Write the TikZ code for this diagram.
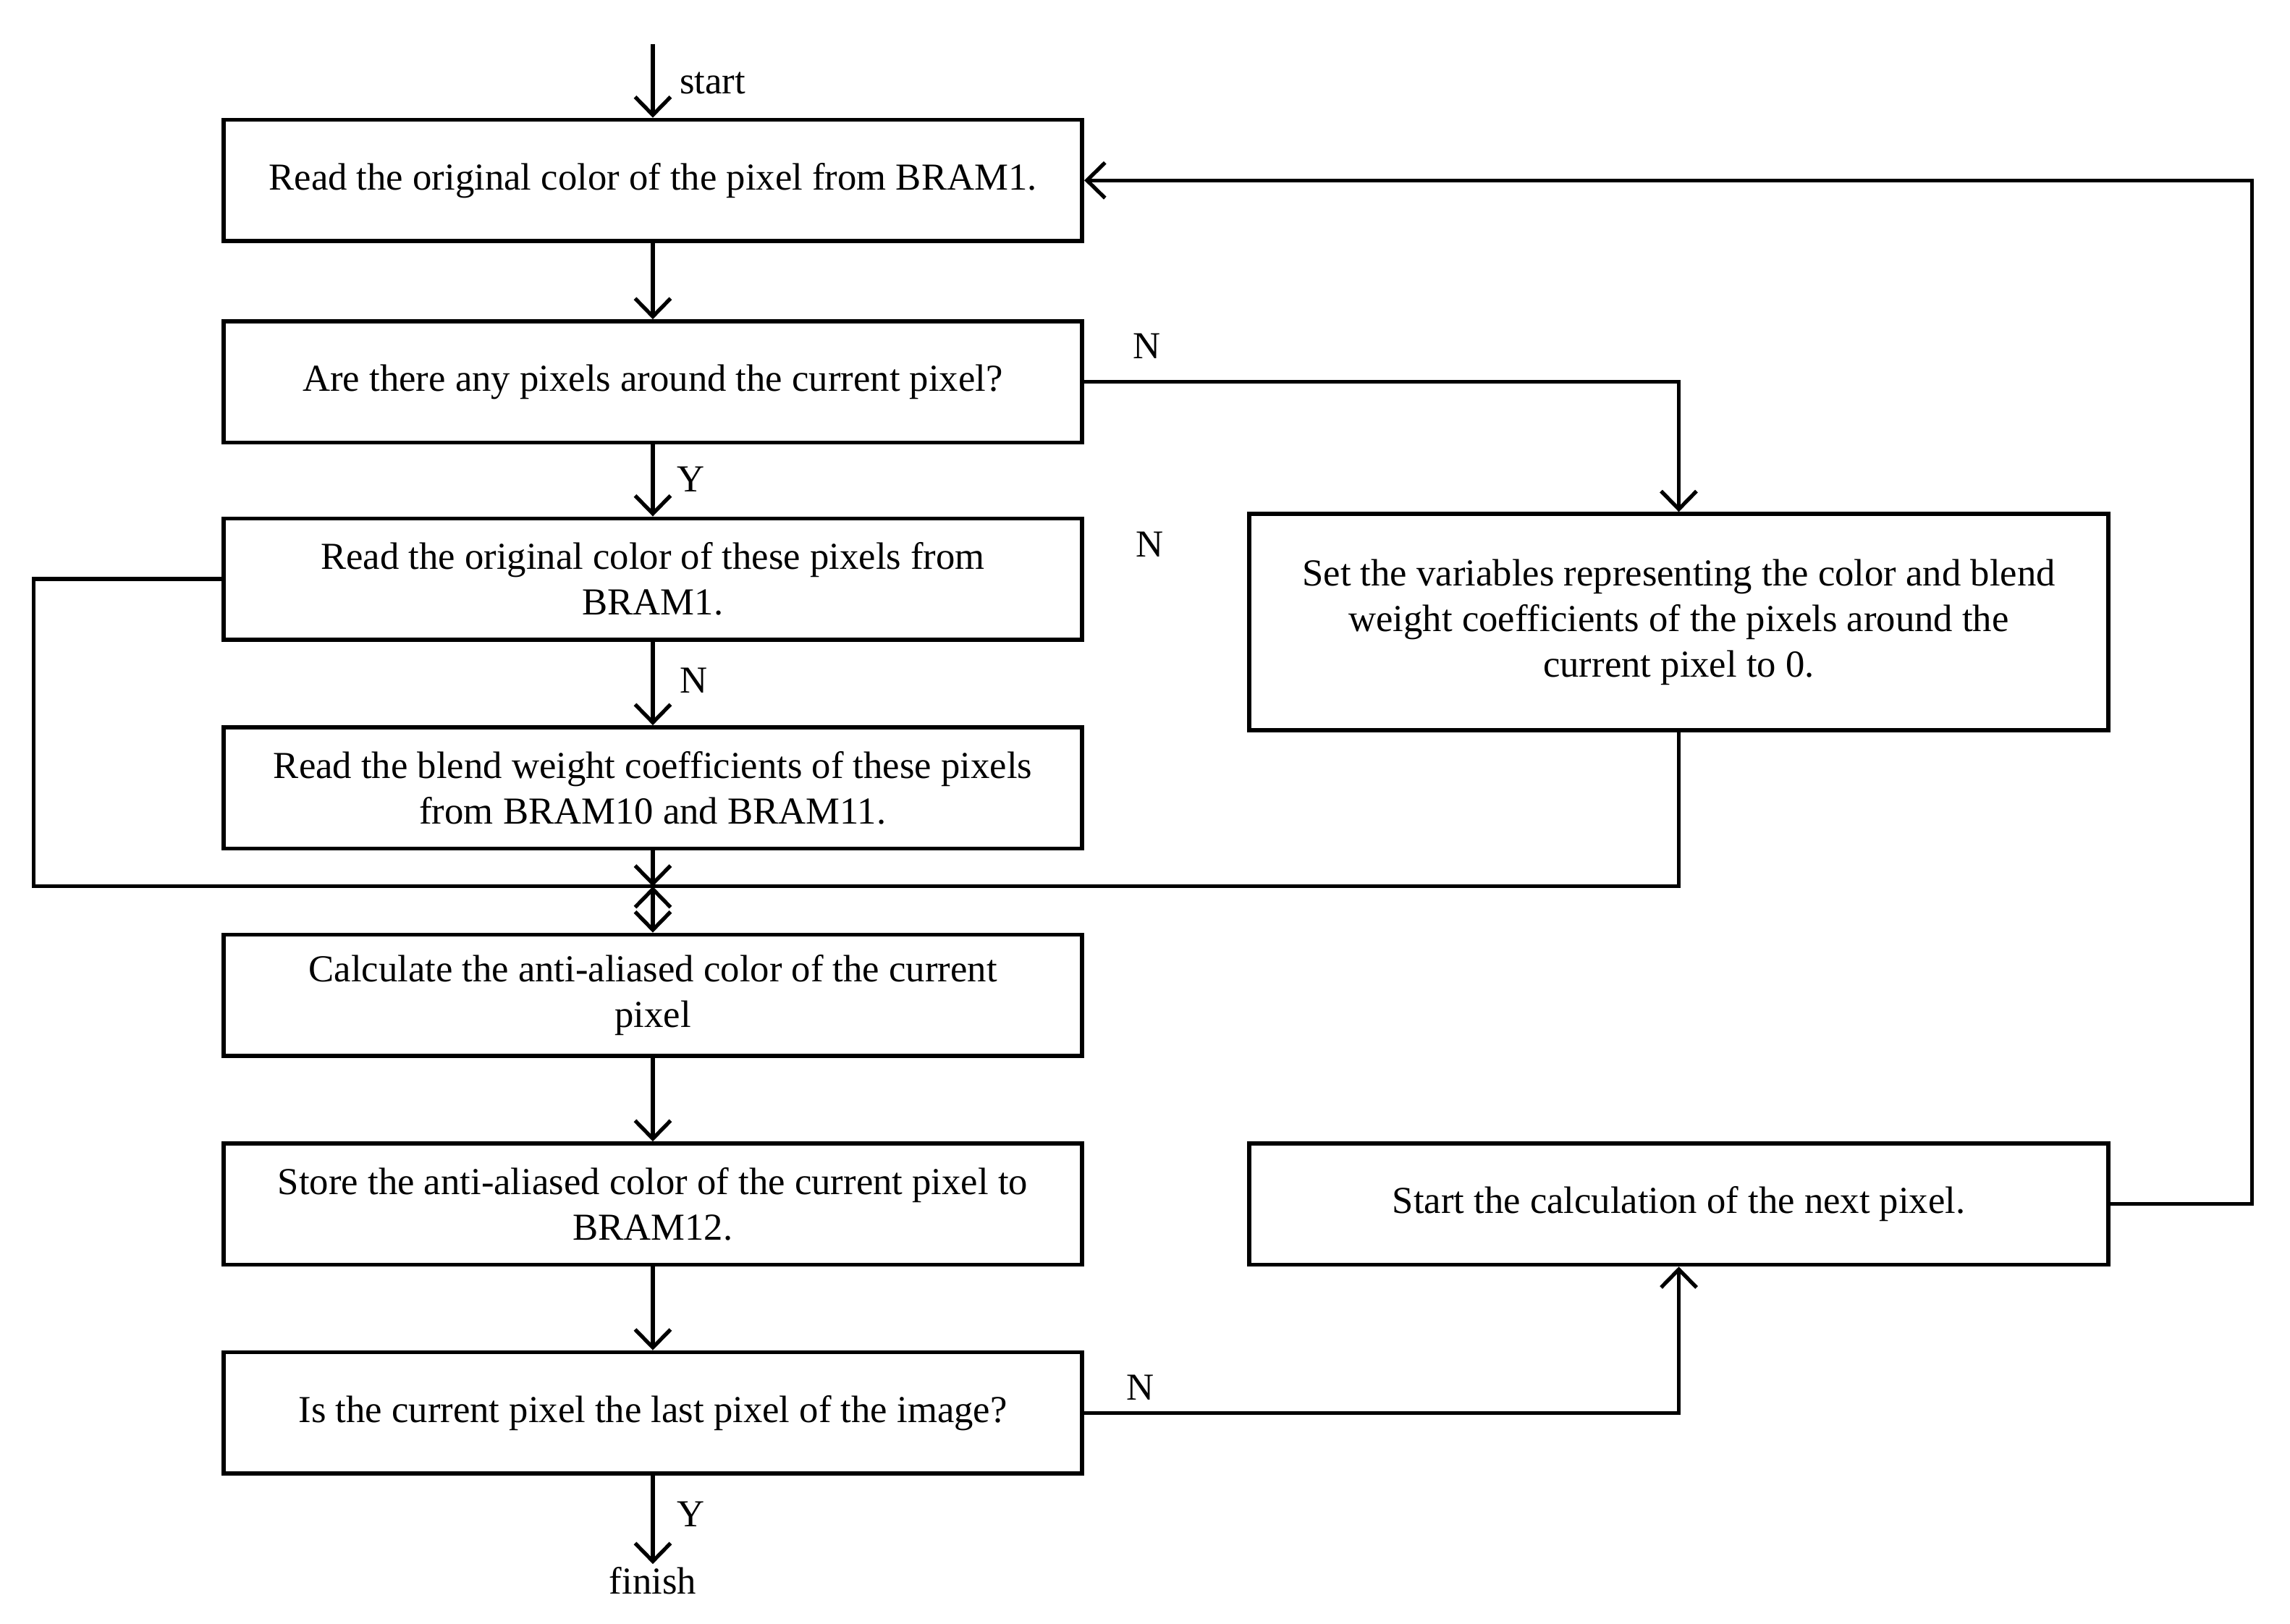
\documentclass[tikz,border=0pt]{standalone}
\usepackage{fontspec}
\setmainfont{Liberation Serif}
\usetikzlibrary{arrows.meta}

\begin{document}
\begin{tikzpicture}[
    x=0.02018cm, y=-0.02018cm,
    every node/.style={font=\fontsize{15}{18}\selectfont, inner sep=1pt},
    box/.style={draw, line width=1.6pt, minimum width=11.87cm,
      minimum height=1.675cm, align=center, inner sep=0pt},
    tall/.style={box, minimum height=2.99cm},
    link/.style={line width=1.5pt},
    flow/.style={link, -{Straight Barb[length=2.5mm,width=4.9mm]}},
    both/.style={link, {Straight Barb[length=2.5mm,width=4.9mm]}-{Straight Barb[length=2.5mm,width=4.9mm]}}
  ]
  \useasboundingbox (0,0) rectangle (1568,1112);

  % main column
  \node[box] (read) at (447,123.5) {Read the original color of the pixel from BRAM1.};
  \node[box] (around) at (447,261.5) {Are there any pixels around the current pixel?};
  \node[box] (rdcol) at (447,396.5) {Read the original color of these pixels from\\BRAM1.};
  \node[box] (rdwt) at (447,539.5) {Read the blend weight coefficients of these pixels\\from BRAM10 and BRAM11.};
  \node[box] (calc) at (447,681.5) {Calculate the anti-aliased color of the current\\pixel};
  \node[box] (store) at (447,824.5) {Store the anti-aliased color of the current pixel to\\BRAM12.};
  \node[box] (last) at (447,967.5) {Is the current pixel the last pixel of the image?};

  % right column
  \node[tall] (zero) at (1149.5,426) {Set the variables representing the color and blend\\weight coefficients of the pixels around the\\current pixel to 0.};
  \node[box] (next) at (1149.5,824.5) {Start the calculation of the next pixel.};

  \coordinate (begin) at (447,30);
  \coordinate (join) at (447,607);
  \node[anchor=north] (finish) at (447,1071) {finish};

  % connectors
  \draw[flow] (begin) -- (read);
  \draw[flow] (read) -- (around);
  \draw[flow] (around) -- (rdcol);
  \draw[flow] (rdcol) -- (rdwt);
  \draw[flow] (rdwt) -- (join);
  \draw[both] (join) -- (calc);
  \draw[flow] (calc) -- (store);
  \draw[flow] (store) -- (last);
  \draw[flow] (last) -- (finish);
  \draw[flow] (around.east) -| (zero.north);
  \draw[link] (rdcol.west) -| (23,607) -- (join);
  \draw[link] (zero.south) |- (join);
  \draw[flow] (last.east) -| (next.south);
  \draw[flow] (next.east) -- ++(97,0) |- (read.east);

  % labels
  \node at (488,57) {start};
  \node at (473,328) {Y};
  \node at (475,466) {N};
  \node at (785,237) {N};
  \node at (787,373) {N};
  \node at (781,950) {N};
  \node at (473,1037) {Y};
\end{tikzpicture}
\end{document}
